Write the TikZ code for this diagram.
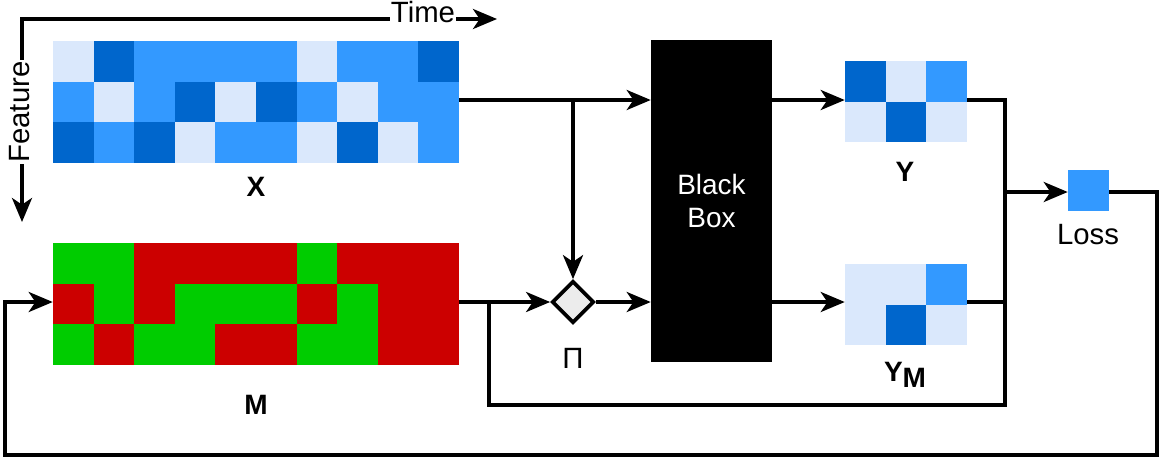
\documentclass[tikz,border=0pt]{standalone}
\usepackage{fontspec}
\setmainfont{Liberation Sans}
\usetikzlibrary{arrows.meta,shapes.geometric}
\definecolor{cL}{HTML}{DAE8FC}\definecolor{cM}{HTML}{3399FF}\definecolor{cD}{HTML}{0066CC}
\definecolor{cG}{HTML}{00CC00}\definecolor{cR}{HTML}{CC0000}
\begin{document}
\begin{tikzpicture}[x=0.75pt,y=-0.75pt,
  ln/.style={line width=2.8pt},
  ar/.style={line width=2.8pt,-{Stealth[length=18pt,width=15pt,inset=5pt]}},
  lbl/.style={font=\fontsize{22}{26}\selectfont},
  blbl/.style={font=\fontsize{21}{24}\selectfont\bfseries}]
\useasboundingbox (0,0) rectangle (1162,458);
\newcommand\gridrow[4]{% x0, y0, row index, list
  \foreach \c [count=\i from 0] in {#4} {\fill[\c] (#1+\i*40.6,#2+#3*40.6) rectangle +(40.8,40.8);}}
% X grid
\gridrow{53}{41}{0}{cL,cD,cM,cM,cM,cM,cL,cM,cM,cD}
\gridrow{53}{41}{1}{cM,cL,cM,cD,cL,cD,cM,cL,cM,cM}
\gridrow{53}{41}{2}{cD,cM,cD,cL,cM,cM,cL,cD,cL,cM}
\node[inner sep=0,minimum width=406*0.75pt,minimum height=122*0.75pt] (X) at (256,101.5) {};
% M grid
\gridrow{53}{243}{0}{cG,cG,cR,cR,cR,cR,cG,cR,cR,cR}
\gridrow{53}{243}{1}{cR,cG,cR,cG,cG,cG,cR,cG,cR,cR}
\gridrow{53}{243}{2}{cG,cR,cG,cG,cR,cR,cG,cG,cR,cR}
\node[inner sep=0,minimum width=406*0.75pt,minimum height=122*0.75pt] (M) at (256,303.5) {};
% Y grids
\gridrow{845}{61}{0}{cD,cL,cM}
\gridrow{845}{61}{1}{cL,cD,cL}
\node[inner sep=0,minimum width=122*0.75pt,minimum height=81*0.75pt] (Y) at (906,101.5) {};
\gridrow{845}{264}{0}{cL,cL,cM}
\gridrow{845}{264}{1}{cL,cD,cL}
\node[inner sep=0,minimum width=122*0.75pt,minimum height=81*0.75pt] (YM) at (906,304.5) {};
% Loss
\node[fill=cM,inner sep=0,minimum size=41*0.75pt] (loss) at (1088.5,190) {};
\node[lbl] (losst) at (1088,235) {Loss};
% black box
\node[fill=black,inner sep=0,minimum width=121*0.75pt,minimum height=322*0.75pt,text=white,align=center,font=\fontsize{21}{25}\selectfont] (bb) at (711.5,201) {Black\\Box};
% diamond
\node[diamond,draw,line width=2.8pt,fill=gray!15,inner sep=0,minimum width=42*0.75pt,minimum height=42*0.75pt] (pi) at (573,302) {};
\node[lbl] (pit) at (573,358) {Π};
% labels
\node[blbl] (xl) at (256,187) {X};
\node[blbl] (ml) at (256,405) {M};
\node[blbl] (yl) at (905,172) {Y};
\node[blbl] (yml) at (905,375) {Y\raisebox{-4pt}{M}};
% axes
\coordinate (ta) at (22,170); \coordinate (tc) at (22,19); \coordinate (te) at (497,19);
\draw[ln] (ta) -- (tc) -- (300,19);
\draw[ar] (300,19) -- (te);
\node[lbl,fill=white,inner sep=1pt] (time) at (423,12) {Time};
\coordinate (fe) at (22,222);
\draw[ar] (22,160) -- (fe);
\node[lbl,fill=white,inner sep=1pt,rotate=90] (feat) at (20,112) {Feature};
% connectors
\coordinate (br) at (573,100);
\draw[ln] (X.east |- 0,100) -- (br);
\draw[ar] (br) -- (bb.west |- br);
\draw[ar] (br) -- (pi.north);
\draw[ar] (M.east |- pi) -- (pi.west);
\draw[ar] (pi.east) -- (bb.west |- pi);
\draw[ar] (bb.east |- 0,100) -- (Y.west |- 0,100);
\draw[ar] (bb.east |- pi) -- (YM.west |- pi);
\coordinate (j1) at (1005,100); \coordinate (j2) at (1005,405); \coordinate (j3) at (489,405); \coordinate (j4) at (489,302);
\draw[ln] (Y.east |- j1) -- (j1) -- (j2) -- (j3) -- (j4);
\draw[ln] (YM.east |- pi) -- (1005,302);
\draw[ar] (1005,192) -- (loss.west |- 0,192);
\coordinate (k1) at (1157,192); \coordinate (k2) at (1157,455); \coordinate (k3) at (5,455); \coordinate (k4) at (5,302);
\draw[ln] (loss.east |- k1) -- (k1) -- (k2) -- (k3) -- (k4) -- (30,302);
\draw[ar] (k4) -- (M.west |- k4);
\end{tikzpicture}
\end{document}
